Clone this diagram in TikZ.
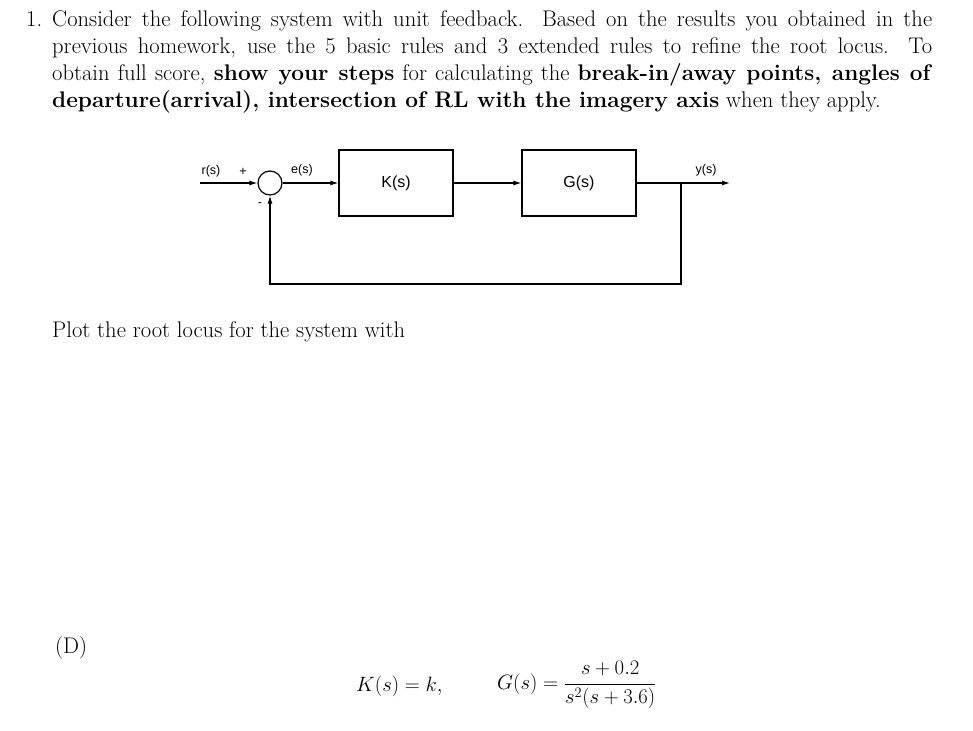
\documentclass[tikz,border=0pt]{standalone}
\usepackage{fontspec}
\usetikzlibrary{arrows.meta}
\newfontfamily\diagfont{Liberation Sans}
\begin{document}
\begin{tikzpicture}[x=1pt,y=-1pt,
  txt/.style={anchor=west,inner sep=0pt,font=\fontsize{22.6}{27}\selectfont},
  jline/.style={txt,text width=#1,align=justify},
  blk/.style={draw,line width=1.2pt,minimum width=114pt,minimum height=66pt,font=\diagfont\fontsize{16}{18}\selectfont},
  lbl/.style={font=\diagfont\fontsize{12.5}{14}\selectfont,inner sep=0pt},
  sig/.style={line width=1.2pt,-{Latex[length=8pt,width=5pt]}}]
\useasboundingbox (0,0) rectangle (973,730);
\node[txt,anchor=base west] (n1) at (26,27) {1.};
\node[jline=880pt,anchor=base west] (l1) at (52,27) {Consider the following system with unit feedback. Based on the results you obtained in the\parfillskip=0pt\par};
\node[jline=880pt,anchor=base west] (l2) at (52,54) {previous homework, use the 5 basic rules and 3 extended rules to refine the root locus. To\parfillskip=0pt\par};
\node[jline=880pt,anchor=base west] (l3) at (52,81) {obtain full score, \textbf{show your steps} for calculating the \textbf{break-in/away points, angles of}\parfillskip=0pt\par};
\node[txt,anchor=base west] (l4) at (52,108) {\textbf{departure(arrival), intersection of RL with the imagery axis} when they apply.};

\node[draw,line width=1.2pt,circle,minimum size=24pt,inner sep=0pt] (sum) at (270,183) {};
\node[blk] (K) at (396,183) {K(s)};
\node[blk] (G) at (579,183) {G(s)};
\coordinate (in) at (200,183);
\coordinate (out) at (730,183);
\coordinate (br) at (681,183);
\coordinate (c1) at (681,284);
\coordinate (c2) at (270,284);
\draw[sig] (in) -- (sum);
\draw[sig] (sum) -- (K);
\draw[sig] (K) -- (G);
\draw[sig] (G) -- (out);
\draw[sig] (br) -- (c1) -- (c2) -- (sum);
\node[lbl] (rs) at (211,171) {r(s)};
\node[lbl] (pl) at (243,172) {+};
\node[lbl] (es) at (302,170) {e(s)};
\node[lbl] (mi) at (260,205) {-};
\node[lbl] (ys) at (706,170) {y(s)};

\node[txt,anchor=base west] (plot) at (52,337) {Plot the root locus for the system with};
\node[txt,anchor=base west] (D) at (55,653) {(D)};
\node[txt,anchor=base west] (eqK) at (356,691) {$K(s)=k,$};
\node[txt,anchor=west] (eqG) at (497,685) {$G(s)=\displaystyle\frac{s+0.2}{s^2(s+3.6)}$};
\end{tikzpicture}
\end{document}
